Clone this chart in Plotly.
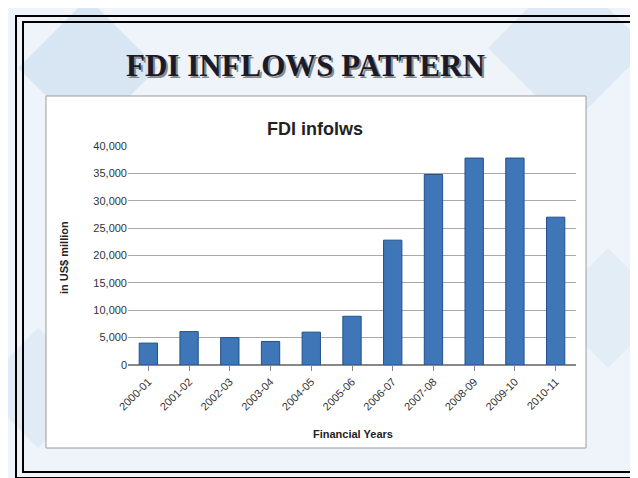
import plotly.graph_objects as go

W, H = 638, 478
years = ["2000-01", "2001-02", "2002-03", "2003-04", "2004-05", "2005-06",
         "2006-07", "2007-08", "2008-09", "2009-10", "2010-11"]
inflows = [4000, 6100, 5000, 4300, 6000, 8900, 22800, 34800, 37800, 37800, 27000]

def px(x0, y0, x1, y1):
    return dict(x0=x0 / W, x1=x1 / W, y0=1 - y1 / H, y1=1 - y0 / H)

fig = go.Figure(go.Bar(
    x=years, y=inflows, width=0.45,
    marker=dict(color="#3f76b8", line=dict(color="#22508a", width=1)),
))

shapes = []
# soft background diamonds
for cx, cy, s, c in [(80, 60, 140, "#d7e6f2"), (560, 40, 160, "#dde9f4"),
                     (600, 300, 120, "#e3edf6"), (30, 380, 120, "#e0ebf5")]:
    shapes.append(dict(type="path", xref="paper", yref="paper", line_width=0,
                       fillcolor=c, layer="below",
                       path=f"M {cx/W},{1-(cy-s/2)/H} L {(cx+s/2)/W},{1-cy/H} "
                            f"L {cx/W},{1-(cy+s/2)/H} L {(cx-s/2)/W},{1-cy/H} Z"))
shapes.append(dict(type="rect", xref="paper", yref="paper", line=dict(color="black", width=2),
                   **px(8, 8, 630, 470)))
shapes.append(dict(type="rect", xref="paper", yref="paper", line=dict(color="black", width=2),
                   **px(15, 14, 623, 464)))
shapes.append(dict(type="rect", xref="paper", yref="paper", layer="below",
                   fillcolor="white", line=dict(color="#9a9a9a", width=1),
                   **px(38, 88, 578, 440)))

def note(text, x, y, size, family="Liberation Sans", color="#222", **kw):
    return dict(text=text, x=x / W, y=1 - y / H, xref="paper", yref="paper",
                xanchor="center", yanchor="middle", showarrow=False,
                font=dict(family=family, size=size, color=color), **kw)

fig.update_layout(
    width=W, height=H, margin=dict(l=0, r=0, t=0, b=0, autoexpand=False),
    paper_bgcolor="#eef4f9", plot_bgcolor="rgba(0,0,0,0)",
    shapes=shapes, showlegend=False,
    xaxis=dict(type="category", domain=[120 / W, 568 / W], tickangle=-45, showline=True,
               automargin=False, linecolor="#888", ticks="outside", tickcolor="#888",
               tickfont=dict(family="Liberation Sans", size=11, color="#333")),
    yaxis=dict(domain=[1 - 357 / H, 1 - 138 / H], range=[0, 40000], dtick=5000,
               automargin=False, tickformat=",", gridcolor="#a8a8a8",
               zeroline=True, zerolinecolor="#888",
               tickfont=dict(family="Liberation Sans", size=11, color="#333")),
    annotations=[
        note("<b>FDI INFLOWS PATTERN</b>", 299, 59, 31, "Liberation Serif", "#8a8a8a"),
        note("<b>FDI INFLOWS PATTERN</b>", 297, 57, 31, "Liberation Serif", "#1a1a2a"),
        note("<b>FDI infolws</b>", 307, 121, 18),
        note("<b>in US$ million</b>", 56, 250, 11, textangle=-90),
        note("<b>Financial Years</b>", 345, 426, 11),
    ],
)
fig.write_html("out.html")
